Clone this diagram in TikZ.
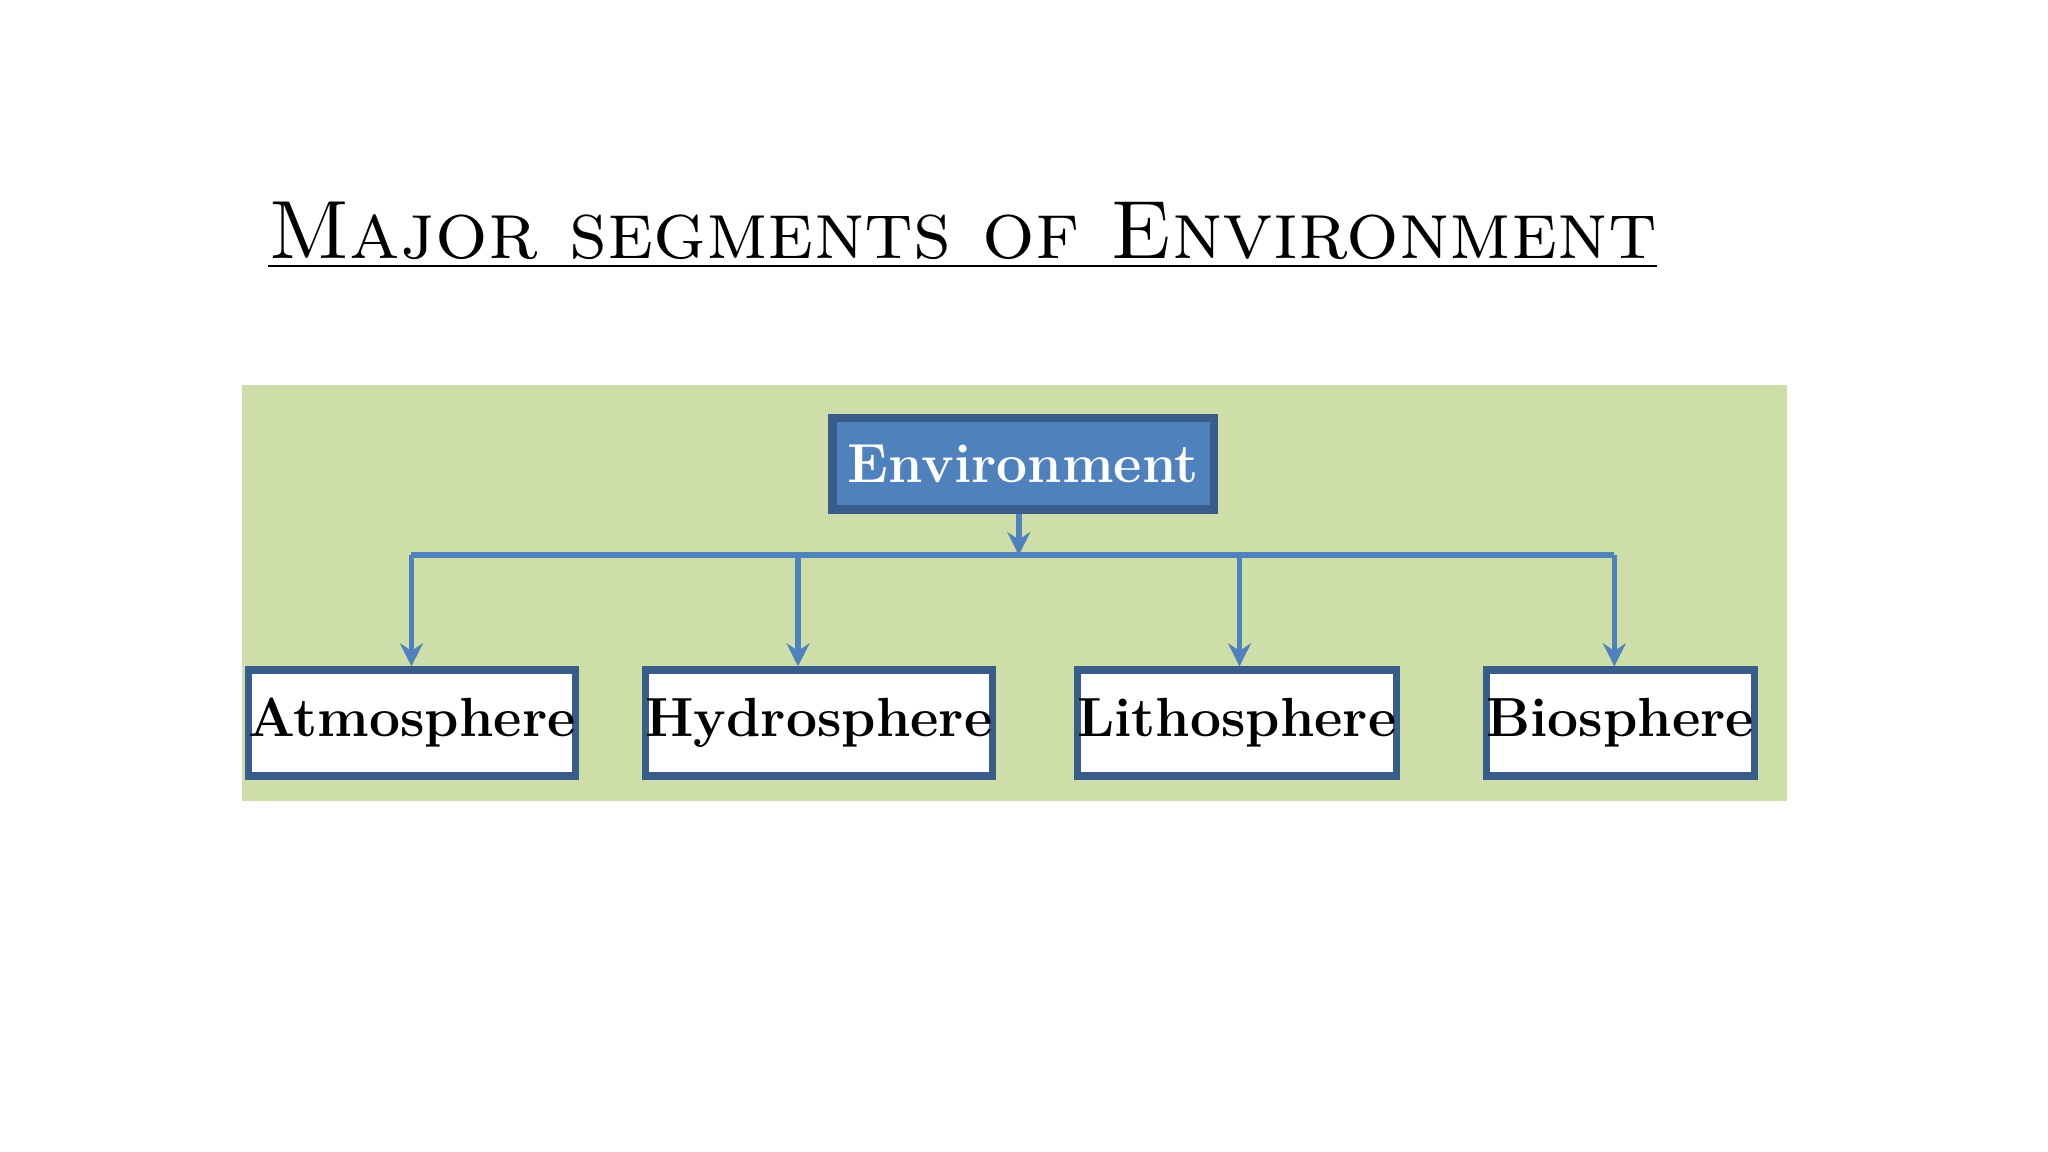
\documentclass[tikz,border=0pt]{standalone}
\usetikzlibrary{arrows.meta}
\definecolor{bgreen}{RGB}{205,222,168}
\definecolor{eblue}{RGB}{79,129,189}
\definecolor{dblue}{RGB}{56,93,138}
\begin{document}
\begin{tikzpicture}[x=0.01cm,y=-0.01cm,
 conn/.style={draw=eblue,line width=1.2pt},
 arr/.style={conn,-{Stealth[length=5pt,width=5pt]}},
 child/.style={draw=dblue,line width=1.6pt,fill=white,font=\bfseries\fontsize{12}{14}\selectfont,inner sep=0pt}]
\useasboundingbox (0,0) rectangle (1568,882);
\fill[white] (0,0) rectangle (1568,882);
\fill[bgreen] (185,295) rectangle (1368,613);
\node (title) at (737,180) {\fontsize{18}{22}\selectfont\scshape\underline{Major segments of Environment}};
\node[draw=dblue,line width=1.8pt,fill=eblue,text=white,font=\bfseries\fontsize{12}{14}\selectfont,minimum width=2.57cm,minimum height=0.7cm] (env) at (783.5,355) {Environment};
\node[child,minimum width=2.15cm,minimum height=0.81cm] (a) at (315.5,553.5) {Atmosphere};
\node[child,minimum width=2.24cm,minimum height=0.81cm] (h) at (627,553.5) {Hydrosphere};
\node[child,minimum width=2.08cm,minimum height=0.81cm] (l) at (947,553.5) {Lithosphere};
\node[child,minimum width=2.05cm,minimum height=0.81cm] (b) at (1240.5,553.5) {Biosphere};
\coordinate (j) at (780,425);
\coordinate (ja) at (315,425);
\coordinate (jb) at (1236,425);
\coordinate (jh) at (611,425);
\coordinate (jl) at (949,425);
\draw[arr] (env.south -| j) -- (j);
\draw[conn] (ja) -- (jb);
\draw[arr] (ja) -- (ja |- a.north);
\draw[arr] (jh) -- (jh |- h.north);
\draw[arr] (jl) -- (jl |- l.north);
\draw[arr] (jb) -- (jb |- b.north);
\end{tikzpicture}
\end{document}
